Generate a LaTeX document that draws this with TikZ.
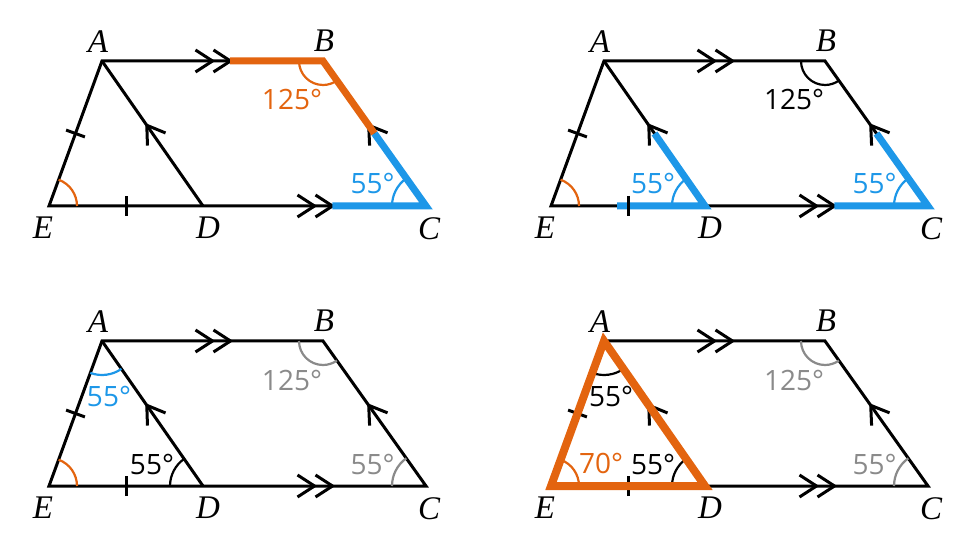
\documentclass[tikz,border=0pt]{standalone}
\usepackage{fontspec}
\setmainfont{Liberation Serif}
\newfontfamily\angfont{Open Sans}
\usetikzlibrary{calc,decorations.markings}
\definecolor{myorange}{HTML}{E3640F}
\definecolor{myblue}{HTML}{1D97E8}
\definecolor{mygray}{HTML}{8A8A8A}
\tikzset{
 edge/.style={line width=3pt, draw=black, line join=miter},
 hi/.style={line width=7pt, line join=miter},
 arcln/.style={line width=2.2pt},
 vlab/.style={font=\fontsize{33}{33}\selectfont\itshape, inner sep=0pt},
 alab/.style={font=\angfont\fontsize{28}{28}\selectfont, inner sep=0pt},
 chevone/.style={postaction={decorate},decoration={markings,mark=at position 0.5 with {\draw[line width=3pt,black] (-7pt,11pt)--(10pt,0pt)--(-7pt,-11pt);}}},
 chevtwo/.style={postaction={decorate},decoration={markings,mark=at position 0.5 with {\draw[line width=3pt,black] (-17pt,11pt)--(0pt,0pt)--(-17pt,-11pt) (1pt,11pt)--(18pt,0pt)--(1pt,-11pt);}}},
 tickm/.style={postaction={decorate},decoration={markings,mark=at position 0.5 with {\draw[line width=3pt,black] (0pt,-10pt)--(0pt,10pt);}}},
}
\newcommand{\mkpanel}[3]{%
 \coordinate (E#3) at (#1,#2);
 \coordinate (D#3) at ($(E#3)+(154,0)$);
 \coordinate (C#3) at ($(E#3)+(377,0)$);
 \coordinate (A#3) at ($(E#3)+(53,145)$);
 \coordinate (B#3) at ($(E#3)+(274,145)$);
 \draw[edge] (E#3)--(A#3)--(B#3)--(C#3)--cycle;
 \draw[edge] (D#3)--(A#3);
 \path[tickm] (E#3)--(A#3);
 \path[tickm] (E#3)--(D#3);
 \path[chevtwo] (A#3)--(B#3);
 \path[chevtwo] (D#3)--(C#3);
 \path[chevone] (D#3)--(A#3);
 \path[chevone] (C#3)--(B#3);
 \node[vlab] (lA#3) at ($(A#3)+(-4,19)$) {A};
 \node[vlab] (lB#3) at ($(B#3)+(1,20)$) {B};
 \node[vlab] (lE#3) at ($(E#3)+(-6,-22)$) {E};
 \node[vlab] (lD#3) at ($(D#3)+(5,-22)$) {D};
 \node[vlab] (lC#3) at ($(C#3)+(3,-23)$) {C};
}
\newcommand{\arcE}[2]{\draw[arcln,#2] ($(E#1)+(0:28pt)$) arc[start angle=0,end angle=69.9,radius=28pt];}
\newcommand{\arcB}[2]{\draw[arcln,#2] ($(B#1)+(180:24pt)$) arc[start angle=180,end angle=305.4,radius=24pt];}
\newcommand{\arcC}[2]{\draw[arcln,#2] ($(C#1)+(125.4:34pt)$) arc[start angle=125.4,end angle=180,radius=34pt];}
\newcommand{\arcD}[2]{\draw[arcln,#2] ($(D#1)+(124.9:33pt)$) arc[start angle=124.9,end angle=180,radius=33pt];}
\newcommand{\arcA}[2]{\draw[arcln,#2] ($(A#1)+(249.9:34pt)$) arc[start angle=249.9,end angle=304.9,radius=34pt];}
\begin{document}
\begin{tikzpicture}[x=1pt,y=1pt]
\useasboundingbox (0,0) rectangle (976,549);
% ---------- panel 1 ----------
\mkpanel{49}{343}{1}
\arcE{1}{myorange}
\arcB{1}{myorange}
\arcC{1}{myblue}
\draw[hi,myorange] ($(A1)!0.58!(B1)$) -- (B1) -- ($(B1)!0.5!(C1)$);
\draw[hi,myblue] ($(B1)!0.5!(C1)$) -- (C1) -- ($(D1)!0.58!(C1)$);
\node[alab,text=myorange] (t1a) at ($(B1)+(-31,-39)$) {125°};
\node[alab,text=myblue] (t1b) at ($(C1)+(-53.5,22)$) {55°};
% ---------- panel 2 ----------
\mkpanel{551}{343}{2}
\arcE{2}{myorange}
\arcB{2}{black}
\arcC{2}{myblue}
\arcD{2}{myblue}
\draw[hi,myblue] ($(E2)!0.43!(D2)$) -- (D2) -- ($(D2)!0.5!(A2)$);
\draw[hi,myblue] ($(D2)!0.58!(C2)$) -- (C2) -- ($(C2)!0.5!(B2)$);
\coordinate (m2) at ($(E2)!0.5!(D2)$);
\draw[line width=3pt] ($(m2)+(0,10)$) -- ($(m2)+(0,-10)$);
\node[alab] (t2a) at ($(B2)+(-31,-39)$) {125°};
\node[alab,text=myblue] (t2b) at ($(D2)+(-52,22)$) {55°};
\node[alab,text=myblue] (t2c) at ($(C2)+(-53.5,22)$) {55°};
% ---------- panel 3 ----------
\mkpanel{49}{63}{3}
\arcE{3}{myorange}
\arcB{3}{mygray}
\arcC{3}{mygray}
\arcA{3}{myblue}
\arcD{3}{black}
\node[alab,text=mygray] (t3a) at ($(B3)+(-31,-39)$) {125°};
\node[alab,text=mygray] (t3b) at ($(C3)+(-53.5,22)$) {55°};
\node[alab,text=myblue] (t3c) at ($(A3)+(7,-55)$) {55°};
\node[alab] (t3d) at ($(D3)+(-51,22)$) {55°};
% ---------- panel 4 ----------
\mkpanel{551}{63}{4}
\arcB{4}{mygray}
\arcC{4}{mygray}
\arcA{4}{black}
\arcD{4}{black}
\arcE{4}{myorange}
\draw[line width=8pt,myorange,line join=miter] (A4) -- (E4) -- (D4) -- cycle;
\node[alab,text=mygray] (t4a) at ($(B4)+(-31,-39)$) {125°};
\node[alab,text=mygray] (t4b) at ($(C4)+(-53.5,22)$) {55°};
\node[alab] (t4c) at ($(A4)+(7,-55)$) {55°};
\node[alab,text=myorange] (t4d) at ($(E4)+(50,23)$) {70°};
\node[alab] (t4e) at ($(D4)+(-52,22)$) {55°};
\end{tikzpicture}
\end{document}
